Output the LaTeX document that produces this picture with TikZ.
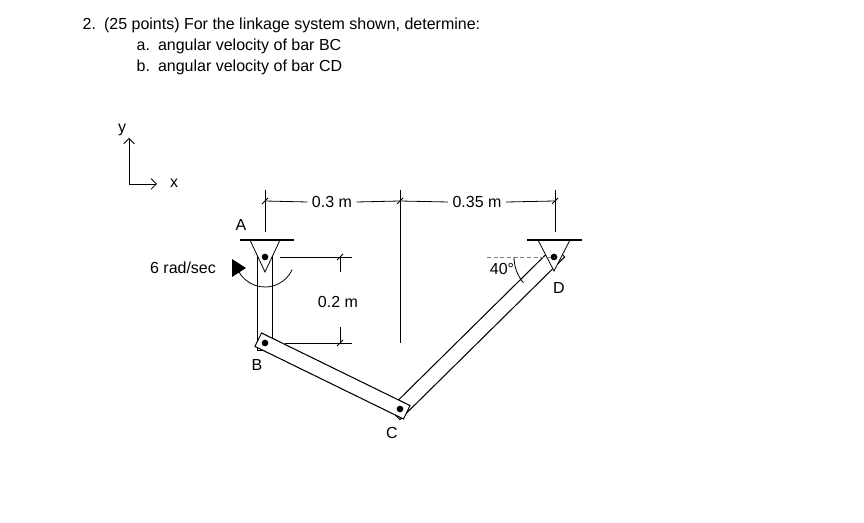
\documentclass[tikz,border=0pt]{standalone}
\usepackage{fontspec}
\setmainfont{Liberation Sans}
\usetikzlibrary{calc,arrows.meta}
\begin{document}
\begin{tikzpicture}[x=0.75pt,y=-0.75pt,font=\fontsize{12}{14}\selectfont,
  thin/.style={line width=0.6pt},
  barout/.style={line width=12pt,shorten <=-6pt,shorten >=-6pt},
  barin/.style={white,line width=10.2pt,shorten <=-5.2pt,shorten >=-5.2pt},
  pin/.style={circle,fill,inner sep=0pt,minimum size=5pt}]
\useasboundingbox (0,0) rectangle (864,523);
% header
\node[anchor=west] (q) at (78,25) {2.\enspace(25 points) For the linkage system shown, determine:};
\node[anchor=west] (qa) at (132,46) {a.\enspace angular velocity of bar BC};
\node[anchor=west] (qb) at (132,67) {b.\enspace angular velocity of bar CD};
% axes
\coordinate (O) at (129,184);
\coordinate (Oy) at (129,138);
\coordinate (Ox) at (157,184);
\draw[thin,-{Straight Barb[length=4pt]}] (O) -- (Oy);
\draw[thin,-{Straight Barb[length=4pt]}] (O) -- (Ox);
\node (ylab) at (122,130) {y};
\node (xlab) at (174,183) {x};
% points
\coordinate (A) at (265,257);
\coordinate (B) at (265,343);
\coordinate (C) at (400,409);
\coordinate (D) at (554,257);
% bars
\draw[barout] (C) -- (D); \draw[barin] (C) -- (D);
\draw[barout] (A) -- (B); \draw[barin] (A) -- (B);
\draw[barout] (B) -- (C); \draw[barin] (B) -- (C);
% supports
\draw[thin,fill=white] (250,240) -- (280,240) -- (265,272) -- cycle;
\draw[line width=0.9pt] (240,240) -- (294,240);
\draw[thin,fill=white] (538,240) -- (570,240) -- (554,271) -- cycle;
\draw[line width=0.9pt] (527,240) -- (582,240);
\node[pin] (pA) at (A) {};
\node[pin] (pB) at (B) {};
\node[pin] (pC) at (C) {};
\node[pin] (pD) at (D) {};
% labels
\node (lA) at (241,225) {A};
\node (lB) at (257,365) {B};
\node (lC) at (392,433) {C};
\node (lD) at (559,288) {D};
% angular velocity
\draw[thin] ($(A)+(-27.2,12.7)$) arc[start angle=155,end angle=25,radius=30];
\fill (232,259) -- (246,268) -- (232,277) -- cycle;
\node (w) at (183,268) {6 rad/sec};
% top dimension
\draw[thin] (265,190) -- (265,232);
\draw[thin] (400,190) -- (400,343);
\draw[thin] (555,190) -- (555,232);
\node (d1) at (332,202) {0.3 m};
\node (d2) at (477,202) {0.35 m};
\draw[thin] (265,201) -- (d1.west); \draw[thin] (d1.east) -- (400,201);
\draw[thin] (400,201) -- (d2.west); \draw[thin] (d2.east) -- (555,201);
\foreach \xx in {265,400,555}{\draw[thin] (\xx-3,204) -- (\xx+3,198);}
% 0.2 m
\draw[thin] (280,257) -- (352,257);
\draw[thin] (285,343) -- (352,343);
\node (d3) at (338,302) {0.2 m};
\draw[thin] (340,257) -- (340,272);
\draw[thin] (340,327) -- (340,343);
\draw[thin] (337,260) -- (343,254);
\draw[thin] (337,346) -- (343,340);
% 40 deg
\draw[thin,dashed,gray,dash pattern=on 3pt off 2pt] (487,257) -- (D);
\draw[thin] ($(D)+(-40,0)$) arc[start angle=180,end angle=140,radius=40];
\node (ang) at (502,269) {40\textdegree};
\end{tikzpicture}
\end{document}
